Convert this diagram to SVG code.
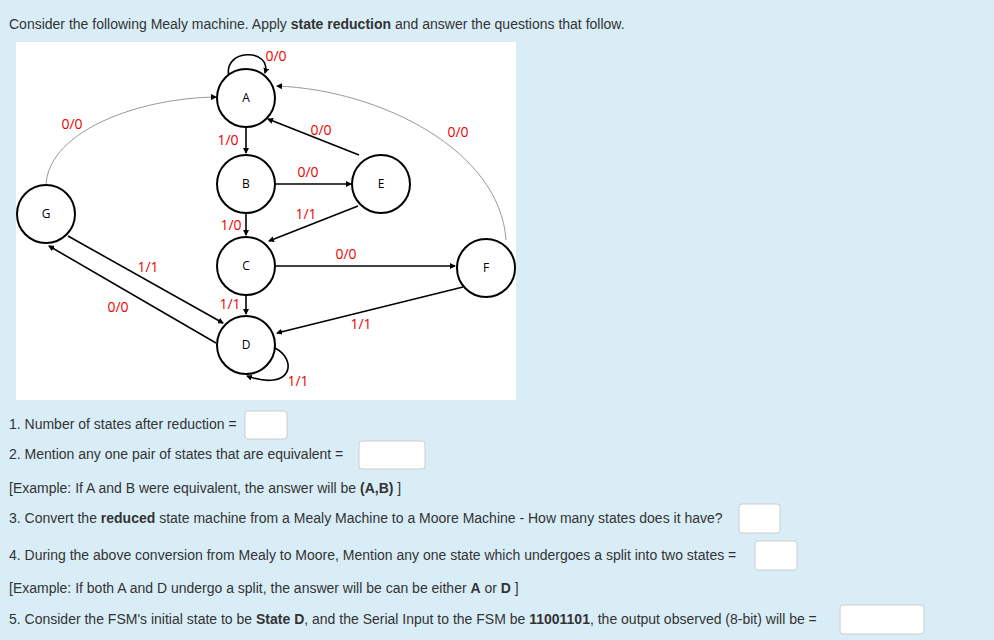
<svg xmlns="http://www.w3.org/2000/svg" width="994" height="640" viewBox="0 0 994 640">
<style>
.t{font-family:"Liberation Sans",Arial,sans-serif;font-size:14px;fill:#333}
.n circle{fill:#fff;stroke:#000;stroke-width:2}
.n text{font-family:"Open Sans",sans-serif;font-size:12px;text-anchor:middle}
.e{fill:none;stroke:#000;stroke-width:1.6;marker-end:url(#ar)}
.g{fill:none;stroke:#999;stroke-width:1;marker-end:url(#ar)}
.l{font-family:"Open Sans",sans-serif;font-size:14px;fill:#e00;text-anchor:middle}
.box{fill:#fff;stroke:#ccc}
</style>
<defs><marker id="ar" markerWidth="6" markerHeight="6" refX="5" refY="3" orient="auto" markerUnits="userSpaceOnUse"><path d="M0,0L6,3L0,6z" fill="#000"/></marker></defs>
<rect width="994" height="640" fill="#d9edf7"/>
<text class="t" x="9" y="29">Consider the following Mealy machine. Apply <tspan font-weight="bold">state reduction</tspan> and answer the questions that follow.</text>
<rect x="16" y="42" width="500" height="358" fill="#fff"/>
<g id="connectors">
<path class="e" d="M229 77 C222 48,272 48,265 73"/>
<path class="g" d="M46 184 C50 130,140 98,216 97"/>
<path class="g" d="M506 240 C500 150,380 90,277 86"/>
<path class="e" d="M246 127 L246 153"/>
<path class="e" d="M359 155 L268 119"/>
<path class="e" d="M275 184 L351 184"/>
<path class="e" d="M246 213 L246 235"/>
<path class="e" d="M358 206 L269 241"/>
<path class="e" d="M275 266 L455 266"/>
<path class="e" d="M246 295 L246 314"/>
<path class="e" d="M463 287 L277 333"/>
<path class="e" d="M68 236 L223 323"/>
<path class="e" d="M216 343 L49 246"/>
<path class="e" d="M275 348 C298 360,292 392,247 376"/>
</g>
<g id="A" class="n"><circle cx="246" cy="98" r="29"/><text x="246" y="102">A</text></g>
<g id="B" class="n"><circle cx="246" cy="184" r="29"/><text x="246" y="188">B</text></g>
<g id="E" class="n"><circle cx="381" cy="184" r="29"/><text x="381" y="188">E</text></g>
<g id="G" class="n"><circle cx="46" cy="214" r="29"/><text x="46" y="218">G</text></g>
<g id="C" class="n"><circle cx="246" cy="266" r="29"/><text x="246" y="270">C</text></g>
<g id="F" class="n"><circle cx="486" cy="268" r="29"/><text x="486" y="272">F</text></g>
<g id="D" class="n"><circle cx="246" cy="345" r="29"/><text x="246" y="349">D</text></g>
<g id="labels">
<text class="l" x="276" y="61">0/0</text>
<text class="l" x="72" y="129">0/0</text>
<text class="l" x="228" y="145">1/0</text>
<text class="l" x="321" y="135">0/0</text>
<text class="l" x="458" y="137">0/0</text>
<text class="l" x="308" y="177">0/0</text>
<text class="l" x="306" y="219">1/1</text>
<text class="l" x="231" y="230">1/0</text>
<text class="l" x="346" y="259">0/0</text>
<text class="l" x="148" y="272">1/1</text>
<text class="l" x="118" y="312">0/0</text>
<text class="l" x="230" y="309">1/1</text>
<text class="l" x="361" y="329">1/1</text>
<text class="l" x="298" y="386">1/1</text>
</g>
<text class="t" x="9" y="429">1. Number of states after reduction =</text>
<rect class="box" x="245" y="411" width="42" height="28" rx="3"/>
<text class="t" x="9" y="459">2. Mention any one pair of states that are equivalent =</text>
<rect class="box" x="359" y="441" width="66" height="28" rx="3"/>
<text class="t" x="9" y="493">[Example: If A and B were equivalent, the answer will be <tspan font-weight="bold">(A,B)</tspan> ]</text>
<text class="t" x="9" y="523">3. Convert the <tspan font-weight="bold">reduced</tspan> state machine from a Mealy Machine to a Moore Machine - How many states does it have?</text>
<rect class="box" x="739" y="504" width="41" height="29" rx="3"/>
<text class="t" x="9" y="560">4. During the above conversion from Mealy to Moore, Mention any one state which undergoes a split into two states =</text>
<rect class="box" x="755" y="541" width="42" height="29" rx="3"/>
<text class="t" x="9" y="593">[Example: If both A and D undergo a split, the answer will be can be either <tspan font-weight="bold">A</tspan> or <tspan font-weight="bold">D</tspan> ]</text>
<text class="t" x="9" y="624">5. Consider the FSM's initial state to be <tspan font-weight="bold">State D</tspan>, and the Serial Input to the FSM be <tspan font-weight="bold">11001101</tspan>, the output observed (8-bit) will be =</text>
<rect class="box" x="840" y="605" width="84" height="29" rx="3"/>
</svg>
